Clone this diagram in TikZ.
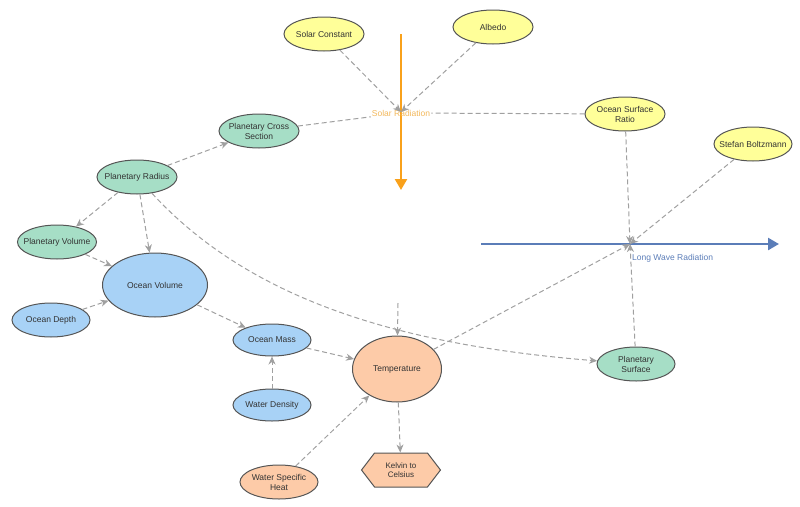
\documentclass[tikz,border=0pt]{standalone}
\usepackage{fontspec}
\setmainfont{Liberation Sans}
\usetikzlibrary{shapes.geometric,shapes.symbols,arrows.meta}
\definecolor{yfill}{HTML}{FFFF99}
\definecolor{gfill}{HTML}{A6DEC6}
\definecolor{bfill}{HTML}{A8D2F6}
\definecolor{pfill}{HTML}{FDCBA8}
\definecolor{bord}{HTML}{555555}
\definecolor{txt}{HTML}{333333}
\definecolor{lnk}{HTML}{A0A0A0}
\definecolor{sorange}{HTML}{F9A11B}
\definecolor{sorlab}{HTML}{F2B75A}
\definecolor{lwblue}{HTML}{5B7DB8}
\begin{document}
\begin{tikzpicture}[x=1pt,y=-1pt,
  base/.style={ellipse, draw=bord, line width=1pt, inner xsep=-8pt, inner ysep=0pt,
    align=center, font=\fontsize{8.5}{10}\selectfont, text=txt,
    minimum width=80pt, minimum height=34pt},
  yel/.style={base, fill=yfill},
  grn/.style={base, fill=gfill},
  blu/.style={base, fill=bfill},
  pch/.style={base, fill=pfill},
  link/.style={draw=lnk, line width=1pt, dash pattern=on 5pt off 3pt,
    -{Stealth[length=8pt,width=7pt,inset=2.5pt]}},
  linkn/.style={draw=lnk, line width=1pt, dash pattern=on 5pt off 3pt},
  flowarrow/.style={line width=2.5pt, -{Triangle[length=11pt,width=12pt]}},
  flowlab/.style={font=\fontsize{8.5}{9}\selectfont, inner sep=1pt}
]
\useasboundingbox (0,0) rectangle (800,506);

% flows
\coordinate (srtop) at (401,34);
\coordinate (srbot) at (401,190);
\coordinate (sr) at (401,112);
\draw[flowarrow, draw=sorange, fill=sorange] (srtop) -- (srbot);
\node[flowlab, text=sorlab] (srl) at (401,113) {Solar Radiation};

\coordinate (lwl) at (481,244);
\coordinate (lwr) at (779,244);
\coordinate (lw) at (630,244);
\draw[flowarrow, draw=lwblue, fill=lwblue] (lwl) -- (lwr);
\node[flowlab, text=lwblue, anchor=west] (lwlab) at (631,258) {Long Wave Radiation};

% nodes
\node[yel] (sc) at (324,34) {Solar Constant};
\node[yel] (alb) at (493,27) {Albedo};
\node[yel] (osr) at (625,114) {Ocean Surface\\Ratio};
\node[yel, minimum width=78pt] (sb) at (753,144) {Stefan Boltzmann};
\node[grn] (pcs) at (259,131) {Planetary Cross\\Section};
\node[grn] (pr) at (137,177) {Planetary Radius};
\node[grn, minimum width=79pt] (pv) at (57,242) {Planetary Volume};
\node[blu, minimum width=105pt, minimum height=64pt] (ov) at (155,285) {Ocean Volume};
\node[blu, minimum width=78pt] (od) at (51,320) {Ocean Depth};
\node[blu, minimum width=78pt, minimum height=32pt] (om) at (272,340) {Ocean Mass};
\node[blu, minimum width=78pt, minimum height=32pt] (wd) at (272,405) {Water Density};
\node[pch, minimum width=89pt, minimum height=66pt] (temp) at (397,369) {Temperature};
\node[pch, minimum width=78pt] (wsh) at (279,482) {Water Specific\\Heat};
\node[pch, signal, signal to=east and west, signal pointer angle=105,
  inner xsep=1pt, inner ysep=1pt, minimum width=79pt, minimum height=34pt,
  font=\fontsize{8}{9.5}\selectfont] (kc) at (401,470) {Kelvin to\\Celsius};
\node[grn, minimum width=78pt] (ps) at (636,364) {Planetary\\Surface};

\coordinate (tin) at (398,303);

% links
\draw[link] (sc) -- (sr);
\draw[link] (alb) -- (sr);
\draw[linkn] (pcs) -- (srl);
\draw[linkn] (osr) -- (srl);
\draw[link] (pr) -- (pcs);
\draw[link] (pr) -- (pv);
\draw[link] (pr) -- (ov);
\draw[link] (pr) .. controls (250,300) and (400,345) .. (ps);
\draw[link] (pv) -- (ov);
\draw[link] (od) -- (ov);
\draw[link] (ov) -- (om);
\draw[link] (om) -- (temp);
\draw[link] (wd) -- (om);
\draw[link] (wsh) -- (temp);
\draw[link] (temp) -- (kc);
\draw[link] (tin) -- (temp);
\draw[link] (temp) -- (lw);
\draw[link] (osr) -- (lw);
\draw[link] (sb) -- (lw);
\draw[link] (ps) -- (lw);
\end{tikzpicture}
\end{document}
